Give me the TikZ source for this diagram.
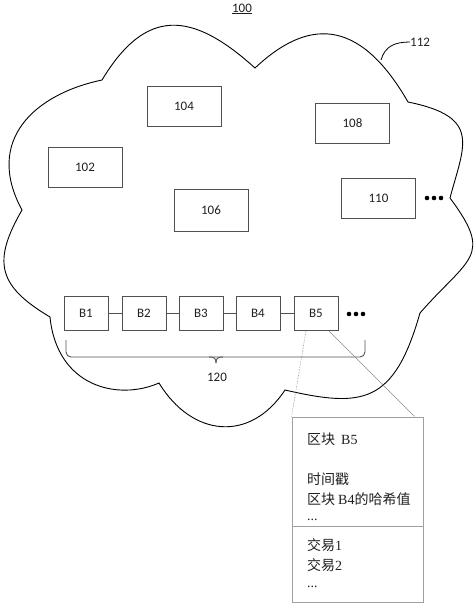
\documentclass[tikz,border=0pt]{standalone}
\usepackage{fontspec}
\setmainfont{Carlito}
\newfontfamily\cjk{Noto Sans CJK SC}
\newfontfamily\serif{Liberation Serif}
\usetikzlibrary{calc}
\definecolor{boxgray}{HTML}{505050}
\definecolor{txt}{HTML}{202020}
\definecolor{lightframe}{HTML}{A0A0A0}
\begin{document}
\begin{tikzpicture}[x=1pt,y=-1pt,
  cloudline/.style={draw=black, line width=0.9pt},
  box/.style={draw=boxgray, line width=0.9pt, minimum width=74pt, minimum height=40pt, inner sep=0pt, text=txt, font=\fontsize{13}{15}\selectfont},
  blk/.style={draw=boxgray, line width=0.9pt, minimum width=44pt, minimum height=34pt, inner sep=0pt, text=txt, font=\fontsize{13}{15}\selectfont},
  dotn/.style={circle, fill=black, inner sep=0pt, minimum size=4.6pt},
  link/.style={draw=boxgray, line width=0.9pt},
  lbl/.style={text=txt, font=\fontsize{13}{15}\selectfont, inner sep=0pt},
  dtxt/.style={anchor=west, inner sep=0pt, text=txt, font=\fontsize{14}{16}\selectfont\serif},
  ddots/.style={anchor=base west, inner sep=0pt, text=txt, font=\fontsize{14}{16}\selectfont\serif}
]
\useasboundingbox (0,0) rectangle (474,606);

% title
\node[lbl] (title) at (242,9) {\underline{100}};

% cloud
\draw[cloudline] (102,80)
 .. controls (146,7) and (192,11) .. (255,68)
 .. controls (306,20) and (358,15) .. (408,102)
 .. controls (482,117) and (464,145) .. (450,198)
 .. controls (494,257) and (469,257) .. (420,313)
 .. controls (394,404) and (363,408) .. (285,390)
 .. controls (250,443) and (192,437) .. (159,383)
 .. controls (118,401) and (57,387) .. (50,317)
 .. controls (-2,286) and (-8,262) .. (22,210)
 .. controls (-16,140) and (35,94) .. (102,80);

% label 112
\coordinate (c112) at (381,60);
\node[lbl, anchor=west] (l112) at (410,42) {112};
\draw[line width=0.8pt] (c112) .. controls (385,46) and (395,42) .. (l112.west);

% nodes
\node[box] (n104) at (184,106.5) {104};
\node[box] (n108) at (352.5,123) {108};
\node[box] (n102) at (85,167) {102};
\node[box] (n110) at (378.5,198) {110};
\node[box, minimum height=42pt] (n106) at (211,210) {106};

\node[dotn] (d1) at (427,198) {};
\node[dotn] (d2) at (434,198) {};
\node[dotn] (d3) at (441,198) {};

% blockchain
\node[blk] (B1) at (86,313.5) {B1};
\node[blk] (B2) at (144,313.5) {B2};
\node[blk] (B3) at (201,313.5) {B3};
\node[blk] (B4) at (258,313.5) {B4};
\node[blk] (B5) at (316,313.5) {B5};
\draw[link] (B1) -- (B2);
\draw[link] (B2) -- (B3);
\draw[link] (B3) -- (B4);
\draw[link] (B4) -- (B5);
\node[dotn] (e1) at (349,314) {};
\node[dotn] (e2) at (356,314) {};
\node[dotn] (e3) at (363,314) {};

% brace
\draw[line width=0.9pt, draw=boxgray, rounded corners=5pt] (66,340) -- (66,357) -- (365,357) -- (365,340);
\draw[line width=0.9pt, draw=boxgray] (209,357) .. controls (214,357) and (216,358) .. (216,363);
\draw[line width=0.9pt, draw=boxgray] (223,357) .. controls (218,357) and (216,358) .. (216,363);
\node[lbl] (l120) at (217,377) {120};

% detail box
\node[draw=lightframe, line width=0.9pt, minimum width=131pt, minimum height=185pt, inner sep=0pt] (detail) at (357.5,509.5) {};
\draw[draw=lightframe, line width=0.9pt] (detail.west |- 0,526) -- (detail.east |- 0,526);
\draw[draw=gray!90, line width=0.6pt, densely dotted] ($(B5.south)+(-10,0)$) -- (detail.north west);
\draw[draw=gray!90, line width=0.5pt] ($(B5.south)+(13,0)$) -- ($(detail.north east)+(-9,0)$);

\node[dtxt] (t1) at (307,439) {{\cjk 区块}\hspace{6pt}B5};
\node[dtxt] (t2) at (307,479) {{\cjk 时间戳}};
\node[dtxt] (t3) at (307,499) {{\cjk 区块}\hspace{3pt}B4{\cjk 的哈希值}};
\node[ddots] (t4) at (307,520) {...};
\node[dtxt] (t5) at (307,545) {{\cjk 交易}1};
\node[dtxt] (t6) at (307,565) {{\cjk 交易}2};
\node[ddots] (t7) at (307,587) {...};
\end{tikzpicture}
\end{document}
